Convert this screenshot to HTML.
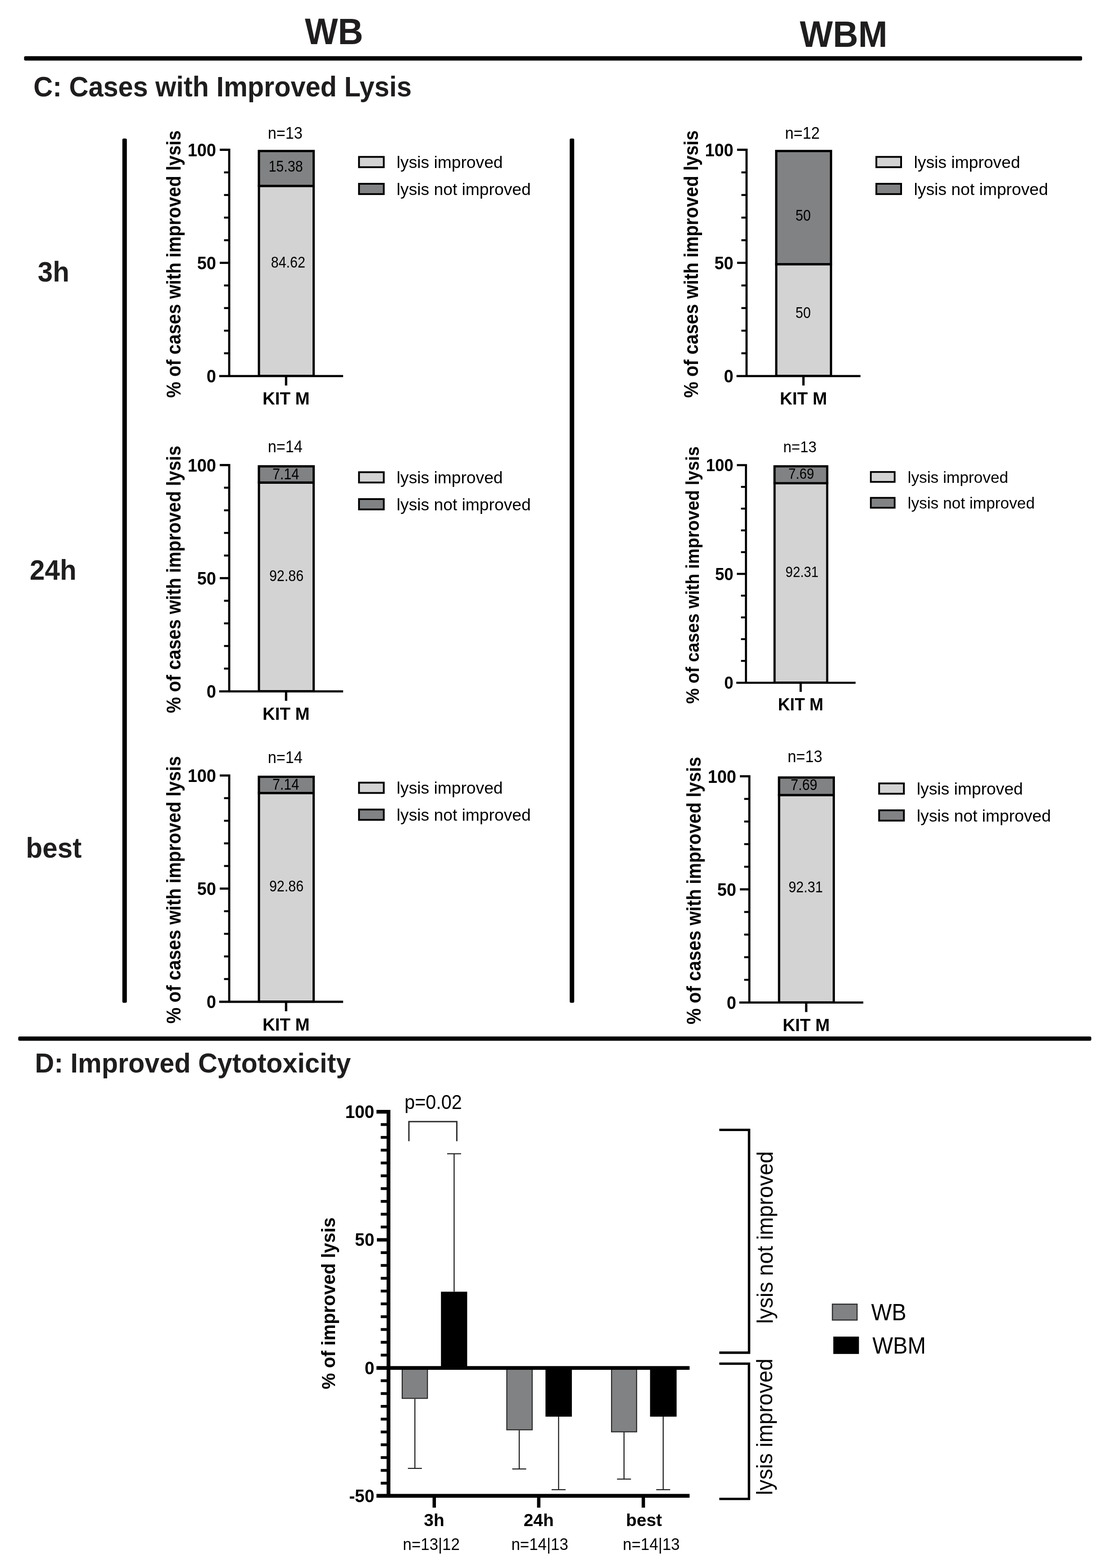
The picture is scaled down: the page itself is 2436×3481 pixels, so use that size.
<!DOCTYPE html>
<html lang="en">
<head>
<meta charset="utf-8">
<title>Cases with Improved Lysis / Improved Cytotoxicity</title>
<style>
html,body{margin:0;padding:0;background:#fff;}
body{width:2436px;height:3481px;overflow:hidden;}
svg{display:block;}
text{font-family:"Liberation Sans",sans-serif;fill:#000;}
.b{font-weight:bold;}
.r{font-weight:normal;}
.t{font-weight:bold;fill:#1f1d1d;}
</style>
</head>
<body>
<svg width="2436" height="3481" viewBox="0 0 2436 3481">
<rect width="2436" height="3481" fill="#fff"/>

<text class="t" transform="translate(741.70,97.90) scale(0.949,1)" text-anchor="middle" font-size="82.00">WB</text>
<text class="t" transform="translate(1873.30,103.70) scale(0.949,1)" text-anchor="middle" font-size="82.00">WBM</text>
<rect x="53.5" y="124.8" width="2349.4" height="9.7" rx="3.2" fill="#000"/>
<text class="t" transform="translate(74.30,214.30) scale(0.951,1)" font-size="62.50">C: Cases with Improved Lysis</text>
<rect x="271.7" y="307.4" width="10" height="1918.8" rx="3.2" fill="#000"/>
<rect x="1265.1" y="307.4" width="10" height="1918.8" rx="3.2" fill="#000"/>
<text class="t" transform="translate(118.80,625.20) scale(0.948,1)" text-anchor="middle" font-size="63.50">3h</text>
<text class="t" transform="translate(117.80,1287.20) scale(0.948,1)" text-anchor="middle" font-size="63.50">24h</text>
<text class="t" transform="translate(119.30,1904.40) scale(0.948,1)" text-anchor="middle" font-size="63.50">best</text>
<g transform="translate(509,834.5) scale(1)">
<rect x="63.5" y="-501.70" width="126.5" height="501.70" fill="#d3d3d3"/>
<rect x="63.5" y="-501.70" width="126.5" height="79.91" fill="#818284"/>
<rect x="66.0" y="-499.20" width="121.5" height="499.20" fill="none" stroke="#000" stroke-width="5.0"/>
<line x1="63.5" x2="190.0" y1="-421.69" y2="-421.69" stroke="#000" stroke-width="5.2"/>
<path d="M-21,-502.00H0V0" fill="none" stroke="#000" stroke-width="4.8"/>
<line x1="-22.3" x2="253" y1="0.3" y2="0.3" stroke="#000" stroke-width="4.8"/>
<line x1="-21" x2="0" y1="-251.00" y2="-251.00" stroke="#000" stroke-width="4.8"/>
<line x1="-11.5" x2="0" y1="-50.20" y2="-50.20" stroke="#000" stroke-width="4.4"/>
<line x1="-11.5" x2="0" y1="-100.40" y2="-100.40" stroke="#000" stroke-width="4.4"/>
<line x1="-11.5" x2="0" y1="-150.60" y2="-150.60" stroke="#000" stroke-width="4.4"/>
<line x1="-11.5" x2="0" y1="-200.80" y2="-200.80" stroke="#000" stroke-width="4.4"/>
<line x1="-11.5" x2="0" y1="-301.20" y2="-301.20" stroke="#000" stroke-width="4.4"/>
<line x1="-11.5" x2="0" y1="-351.40" y2="-351.40" stroke="#000" stroke-width="4.4"/>
<line x1="-11.5" x2="0" y1="-401.60" y2="-401.60" stroke="#000" stroke-width="4.4"/>
<line x1="-11.5" x2="0" y1="-451.80" y2="-451.80" stroke="#000" stroke-width="4.4"/>
<line x1="126.3" x2="126.3" y1="0" y2="21.3" stroke="#000" stroke-width="5.2"/>
<text class="b" transform="translate(-29.20,14.20) scale(0.917,1)" text-anchor="end" font-size="41.30">0</text>
<text class="b" transform="translate(-29.20,-236.80) scale(0.917,1)" text-anchor="end" font-size="41.30">50</text>
<text class="b" transform="translate(-29.20,-487.80) scale(0.917,1)" text-anchor="end" font-size="41.30">100</text>
<text class="b" transform="translate(126.30,63.80) scale(0.975,1)" text-anchor="middle" font-size="39.50">KIT M</text>
<text class="b" transform="translate(-108.30,-248.20) rotate(-90) scale(0.917,1)" text-anchor="middle" font-size="44.00">% of cases with improved lysis</text>
<rect x="288.2" y="-486.2" width="55" height="22.9" fill="#d3d3d3" stroke="#000" stroke-width="4"/>
<rect x="288.2" y="-426.5" width="55" height="22.9" fill="#818284" stroke="#000" stroke-width="4"/>
<text class="r" transform="translate(371.80,-461.50) scale(0.99,1)" font-size="37.60">lysis improved</text>
<text class="r" transform="translate(371.80,-401.80) scale(0.99,1)" font-size="37.60">lysis not improved</text>
</g>
<text class="r" transform="translate(633.20,308.20) scale(0.924,1)" text-anchor="middle" font-size="37.00">n=13</text>
<text class="r" transform="translate(634.50,380.70) scale(0.885,1)" text-anchor="middle" font-size="34.40">15.38</text>
<text class="r" transform="translate(639.80,593.80) scale(0.885,1)" text-anchor="middle" font-size="34.40">84.62</text>
<g transform="translate(509,1534.5) scale(1)">
<rect x="63.5" y="-501.70" width="126.5" height="501.70" fill="#d3d3d3"/>
<rect x="63.5" y="-501.70" width="126.5" height="38.54" fill="#818284"/>
<rect x="66.0" y="-499.20" width="121.5" height="499.20" fill="none" stroke="#000" stroke-width="5.0"/>
<line x1="63.5" x2="190.0" y1="-463.06" y2="-463.06" stroke="#000" stroke-width="5.2"/>
<path d="M-21,-502.00H0V0" fill="none" stroke="#000" stroke-width="4.8"/>
<line x1="-22.3" x2="253" y1="0.3" y2="0.3" stroke="#000" stroke-width="4.8"/>
<line x1="-21" x2="0" y1="-251.00" y2="-251.00" stroke="#000" stroke-width="4.8"/>
<line x1="-11.5" x2="0" y1="-50.20" y2="-50.20" stroke="#000" stroke-width="4.4"/>
<line x1="-11.5" x2="0" y1="-100.40" y2="-100.40" stroke="#000" stroke-width="4.4"/>
<line x1="-11.5" x2="0" y1="-150.60" y2="-150.60" stroke="#000" stroke-width="4.4"/>
<line x1="-11.5" x2="0" y1="-200.80" y2="-200.80" stroke="#000" stroke-width="4.4"/>
<line x1="-11.5" x2="0" y1="-301.20" y2="-301.20" stroke="#000" stroke-width="4.4"/>
<line x1="-11.5" x2="0" y1="-351.40" y2="-351.40" stroke="#000" stroke-width="4.4"/>
<line x1="-11.5" x2="0" y1="-401.60" y2="-401.60" stroke="#000" stroke-width="4.4"/>
<line x1="-11.5" x2="0" y1="-451.80" y2="-451.80" stroke="#000" stroke-width="4.4"/>
<line x1="126.3" x2="126.3" y1="0" y2="21.3" stroke="#000" stroke-width="5.2"/>
<text class="b" transform="translate(-29.20,14.20) scale(0.917,1)" text-anchor="end" font-size="41.30">0</text>
<text class="b" transform="translate(-29.20,-236.80) scale(0.917,1)" text-anchor="end" font-size="41.30">50</text>
<text class="b" transform="translate(-29.20,-487.80) scale(0.917,1)" text-anchor="end" font-size="41.30">100</text>
<text class="b" transform="translate(126.30,63.80) scale(0.975,1)" text-anchor="middle" font-size="39.50">KIT M</text>
<text class="b" transform="translate(-108.30,-248.20) rotate(-90) scale(0.917,1)" text-anchor="middle" font-size="44.00">% of cases with improved lysis</text>
<rect x="288.2" y="-486.2" width="55" height="22.9" fill="#d3d3d3" stroke="#000" stroke-width="4"/>
<rect x="288.2" y="-426.5" width="55" height="22.9" fill="#818284" stroke="#000" stroke-width="4"/>
<text class="r" transform="translate(371.80,-461.50) scale(0.99,1)" font-size="37.60">lysis improved</text>
<text class="r" transform="translate(371.80,-401.80) scale(0.99,1)" font-size="37.60">lysis not improved</text>
</g>
<text class="r" transform="translate(633.20,1004.40) scale(0.924,1)" text-anchor="middle" font-size="37.00">n=14</text>
<text class="r" transform="translate(634.50,1063.60) scale(0.885,1)" text-anchor="middle" font-size="34.40">7.14</text>
<text class="r" transform="translate(636.00,1289.80) scale(0.885,1)" text-anchor="middle" font-size="34.40">92.86</text>
<g transform="translate(509,2223.7) scale(1)">
<rect x="63.5" y="-501.70" width="126.5" height="501.70" fill="#d3d3d3"/>
<rect x="63.5" y="-501.70" width="126.5" height="38.54" fill="#818284"/>
<rect x="66.0" y="-499.20" width="121.5" height="499.20" fill="none" stroke="#000" stroke-width="5.0"/>
<line x1="63.5" x2="190.0" y1="-463.06" y2="-463.06" stroke="#000" stroke-width="5.2"/>
<path d="M-21,-502.00H0V0" fill="none" stroke="#000" stroke-width="4.8"/>
<line x1="-22.3" x2="253" y1="0.3" y2="0.3" stroke="#000" stroke-width="4.8"/>
<line x1="-21" x2="0" y1="-251.00" y2="-251.00" stroke="#000" stroke-width="4.8"/>
<line x1="-11.5" x2="0" y1="-50.20" y2="-50.20" stroke="#000" stroke-width="4.4"/>
<line x1="-11.5" x2="0" y1="-100.40" y2="-100.40" stroke="#000" stroke-width="4.4"/>
<line x1="-11.5" x2="0" y1="-150.60" y2="-150.60" stroke="#000" stroke-width="4.4"/>
<line x1="-11.5" x2="0" y1="-200.80" y2="-200.80" stroke="#000" stroke-width="4.4"/>
<line x1="-11.5" x2="0" y1="-301.20" y2="-301.20" stroke="#000" stroke-width="4.4"/>
<line x1="-11.5" x2="0" y1="-351.40" y2="-351.40" stroke="#000" stroke-width="4.4"/>
<line x1="-11.5" x2="0" y1="-401.60" y2="-401.60" stroke="#000" stroke-width="4.4"/>
<line x1="-11.5" x2="0" y1="-451.80" y2="-451.80" stroke="#000" stroke-width="4.4"/>
<line x1="126.3" x2="126.3" y1="0" y2="21.3" stroke="#000" stroke-width="5.2"/>
<text class="b" transform="translate(-29.20,14.20) scale(0.917,1)" text-anchor="end" font-size="41.30">0</text>
<text class="b" transform="translate(-29.20,-236.80) scale(0.917,1)" text-anchor="end" font-size="41.30">50</text>
<text class="b" transform="translate(-29.20,-487.80) scale(0.917,1)" text-anchor="end" font-size="41.30">100</text>
<text class="b" transform="translate(126.30,63.80) scale(0.975,1)" text-anchor="middle" font-size="39.50">KIT M</text>
<text class="b" transform="translate(-108.30,-248.20) rotate(-90) scale(0.917,1)" text-anchor="middle" font-size="44.00">% of cases with improved lysis</text>
<rect x="288.2" y="-486.2" width="55" height="22.9" fill="#d3d3d3" stroke="#000" stroke-width="4"/>
<rect x="288.2" y="-426.5" width="55" height="22.9" fill="#818284" stroke="#000" stroke-width="4"/>
<text class="r" transform="translate(371.80,-461.50) scale(0.99,1)" font-size="37.60">lysis improved</text>
<text class="r" transform="translate(371.80,-401.80) scale(0.99,1)" font-size="37.60">lysis not improved</text>
</g>
<text class="r" transform="translate(633.20,1693.50) scale(0.924,1)" text-anchor="middle" font-size="37.00">n=14</text>
<text class="r" transform="translate(634.50,1752.60) scale(0.885,1)" text-anchor="middle" font-size="34.40">7.14</text>
<text class="r" transform="translate(636.00,1979.10) scale(0.885,1)" text-anchor="middle" font-size="34.40">92.86</text>
<g transform="translate(1657.8,834.5) scale(1)">
<rect x="63.5" y="-501.70" width="126.5" height="501.70" fill="#d3d3d3"/>
<rect x="63.5" y="-501.70" width="126.5" height="253.70" fill="#818284"/>
<rect x="66.0" y="-499.20" width="121.5" height="499.20" fill="none" stroke="#000" stroke-width="5.0"/>
<line x1="63.5" x2="190.0" y1="-247.90" y2="-247.90" stroke="#000" stroke-width="5.2"/>
<path d="M-21,-502.00H0V0" fill="none" stroke="#000" stroke-width="4.8"/>
<line x1="-22.3" x2="253" y1="0.3" y2="0.3" stroke="#000" stroke-width="4.8"/>
<line x1="-21" x2="0" y1="-251.00" y2="-251.00" stroke="#000" stroke-width="4.8"/>
<line x1="-11.5" x2="0" y1="-50.20" y2="-50.20" stroke="#000" stroke-width="4.4"/>
<line x1="-11.5" x2="0" y1="-100.40" y2="-100.40" stroke="#000" stroke-width="4.4"/>
<line x1="-11.5" x2="0" y1="-150.60" y2="-150.60" stroke="#000" stroke-width="4.4"/>
<line x1="-11.5" x2="0" y1="-200.80" y2="-200.80" stroke="#000" stroke-width="4.4"/>
<line x1="-11.5" x2="0" y1="-301.20" y2="-301.20" stroke="#000" stroke-width="4.4"/>
<line x1="-11.5" x2="0" y1="-351.40" y2="-351.40" stroke="#000" stroke-width="4.4"/>
<line x1="-11.5" x2="0" y1="-401.60" y2="-401.60" stroke="#000" stroke-width="4.4"/>
<line x1="-11.5" x2="0" y1="-451.80" y2="-451.80" stroke="#000" stroke-width="4.4"/>
<line x1="126.3" x2="126.3" y1="0" y2="21.3" stroke="#000" stroke-width="5.2"/>
<text class="b" transform="translate(-29.20,14.20) scale(0.917,1)" text-anchor="end" font-size="41.30">0</text>
<text class="b" transform="translate(-29.20,-236.80) scale(0.917,1)" text-anchor="end" font-size="41.30">50</text>
<text class="b" transform="translate(-29.20,-487.80) scale(0.917,1)" text-anchor="end" font-size="41.30">100</text>
<text class="b" transform="translate(126.30,63.80) scale(0.975,1)" text-anchor="middle" font-size="39.50">KIT M</text>
<text class="b" transform="translate(-108.30,-248.20) rotate(-90) scale(0.917,1)" text-anchor="middle" font-size="44.00">% of cases with improved lysis</text>
<rect x="288.2" y="-486.2" width="55" height="22.9" fill="#d3d3d3" stroke="#000" stroke-width="4"/>
<rect x="288.2" y="-426.5" width="55" height="22.9" fill="#818284" stroke="#000" stroke-width="4"/>
<text class="r" transform="translate(371.80,-461.50) scale(0.99,1)" font-size="37.60">lysis improved</text>
<text class="r" transform="translate(371.80,-401.80) scale(0.99,1)" font-size="37.60">lysis not improved</text>
</g>
<text class="r" transform="translate(1781.70,308.20) scale(0.924,1)" text-anchor="middle" font-size="37.00">n=12</text>
<text class="r" transform="translate(1783.40,489.60) scale(0.885,1)" text-anchor="middle" font-size="34.40">50</text>
<text class="r" transform="translate(1783.40,705.80) scale(0.885,1)" text-anchor="middle" font-size="34.40">50</text>
<g transform="translate(1656.5,1515.5) scale(0.962)">
<rect x="63.5" y="-501.70" width="126.5" height="501.70" fill="#d3d3d3"/>
<rect x="63.5" y="-501.70" width="126.5" height="41.30" fill="#818284"/>
<rect x="66.0" y="-499.20" width="121.5" height="499.20" fill="none" stroke="#000" stroke-width="5.0"/>
<line x1="63.5" x2="190.0" y1="-460.30" y2="-460.30" stroke="#000" stroke-width="5.2"/>
<path d="M-21,-502.00H0V0" fill="none" stroke="#000" stroke-width="4.8"/>
<line x1="-22.3" x2="253" y1="0.3" y2="0.3" stroke="#000" stroke-width="4.8"/>
<line x1="-21" x2="0" y1="-251.00" y2="-251.00" stroke="#000" stroke-width="4.8"/>
<line x1="-11.5" x2="0" y1="-50.20" y2="-50.20" stroke="#000" stroke-width="4.4"/>
<line x1="-11.5" x2="0" y1="-100.40" y2="-100.40" stroke="#000" stroke-width="4.4"/>
<line x1="-11.5" x2="0" y1="-150.60" y2="-150.60" stroke="#000" stroke-width="4.4"/>
<line x1="-11.5" x2="0" y1="-200.80" y2="-200.80" stroke="#000" stroke-width="4.4"/>
<line x1="-11.5" x2="0" y1="-301.20" y2="-301.20" stroke="#000" stroke-width="4.4"/>
<line x1="-11.5" x2="0" y1="-351.40" y2="-351.40" stroke="#000" stroke-width="4.4"/>
<line x1="-11.5" x2="0" y1="-401.60" y2="-401.60" stroke="#000" stroke-width="4.4"/>
<line x1="-11.5" x2="0" y1="-451.80" y2="-451.80" stroke="#000" stroke-width="4.4"/>
<line x1="126.3" x2="126.3" y1="0" y2="21.3" stroke="#000" stroke-width="5.2"/>
<text class="b" transform="translate(-29.20,14.20) scale(0.917,1)" text-anchor="end" font-size="41.30">0</text>
<text class="b" transform="translate(-29.20,-236.80) scale(0.917,1)" text-anchor="end" font-size="41.30">50</text>
<text class="b" transform="translate(-29.20,-487.80) scale(0.917,1)" text-anchor="end" font-size="41.30">100</text>
<text class="b" transform="translate(126.30,63.80) scale(0.975,1)" text-anchor="middle" font-size="39.50">KIT M</text>
<text class="b" transform="translate(-108.30,-248.20) rotate(-90) scale(0.9755,1)" text-anchor="middle" font-size="41.36">% of cases with improved lysis</text>
<rect x="288.2" y="-486.2" width="55" height="22.9" fill="#d3d3d3" stroke="#000" stroke-width="4"/>
<rect x="288.2" y="-426.5" width="55" height="22.9" fill="#818284" stroke="#000" stroke-width="4"/>
<text class="r" transform="translate(373.30,-461.50) scale(0.99,1)" font-size="37.04">lysis improved</text>
<text class="r" transform="translate(373.30,-401.80) scale(0.99,1)" font-size="37.04">lysis not improved</text>
</g>
<text class="r" transform="translate(1776.20,1003.50) scale(0.924,1)" text-anchor="middle" font-size="35.59">n=13</text>
<text class="r" transform="translate(1779.20,1062.60) scale(0.885,1)" text-anchor="middle" font-size="33.09">7.69</text>
<text class="r" transform="translate(1781.00,1281.40) scale(0.885,1)" text-anchor="middle" font-size="33.09">92.31</text>
<g transform="translate(1664,2225.4) scale(1)">
<rect x="63.5" y="-501.70" width="126.5" height="501.70" fill="#d3d3d3"/>
<rect x="63.5" y="-501.70" width="126.5" height="41.30" fill="#818284"/>
<rect x="66.0" y="-499.20" width="121.5" height="499.20" fill="none" stroke="#000" stroke-width="5.0"/>
<line x1="63.5" x2="190.0" y1="-460.30" y2="-460.30" stroke="#000" stroke-width="5.2"/>
<path d="M-21,-502.00H0V0" fill="none" stroke="#000" stroke-width="4.8"/>
<line x1="-22.3" x2="253" y1="0.3" y2="0.3" stroke="#000" stroke-width="4.8"/>
<line x1="-21" x2="0" y1="-251.00" y2="-251.00" stroke="#000" stroke-width="4.8"/>
<line x1="-11.5" x2="0" y1="-50.20" y2="-50.20" stroke="#000" stroke-width="4.4"/>
<line x1="-11.5" x2="0" y1="-100.40" y2="-100.40" stroke="#000" stroke-width="4.4"/>
<line x1="-11.5" x2="0" y1="-150.60" y2="-150.60" stroke="#000" stroke-width="4.4"/>
<line x1="-11.5" x2="0" y1="-200.80" y2="-200.80" stroke="#000" stroke-width="4.4"/>
<line x1="-11.5" x2="0" y1="-301.20" y2="-301.20" stroke="#000" stroke-width="4.4"/>
<line x1="-11.5" x2="0" y1="-351.40" y2="-351.40" stroke="#000" stroke-width="4.4"/>
<line x1="-11.5" x2="0" y1="-401.60" y2="-401.60" stroke="#000" stroke-width="4.4"/>
<line x1="-11.5" x2="0" y1="-451.80" y2="-451.80" stroke="#000" stroke-width="4.4"/>
<line x1="126.3" x2="126.3" y1="0" y2="21.3" stroke="#000" stroke-width="5.2"/>
<text class="b" transform="translate(-29.20,14.20) scale(0.917,1)" text-anchor="end" font-size="41.30">0</text>
<text class="b" transform="translate(-29.20,-236.80) scale(0.917,1)" text-anchor="end" font-size="41.30">50</text>
<text class="b" transform="translate(-29.20,-487.80) scale(0.917,1)" text-anchor="end" font-size="41.30">100</text>
<text class="b" transform="translate(126.30,63.80) scale(0.975,1)" text-anchor="middle" font-size="39.50">KIT M</text>
<text class="b" transform="translate(-108.30,-248.20) rotate(-90) scale(0.917,1)" text-anchor="middle" font-size="44.00">% of cases with improved lysis</text>
<rect x="288.2" y="-486.2" width="55" height="22.9" fill="#d3d3d3" stroke="#000" stroke-width="4"/>
<rect x="288.2" y="-426.5" width="55" height="22.9" fill="#818284" stroke="#000" stroke-width="4"/>
<text class="r" transform="translate(371.80,-461.50) scale(0.99,1)" font-size="37.60">lysis improved</text>
<text class="r" transform="translate(371.80,-401.80) scale(0.99,1)" font-size="37.60">lysis not improved</text>
</g>
<text class="r" transform="translate(1787.50,1692.30) scale(0.924,1)" text-anchor="middle" font-size="37.00">n=13</text>
<text class="r" transform="translate(1785.40,1753.60) scale(0.885,1)" text-anchor="middle" font-size="34.40">7.69</text>
<text class="r" transform="translate(1789.00,1980.70) scale(0.885,1)" text-anchor="middle" font-size="34.40">92.31</text>
<rect x="40.5" y="2300.9" width="2382.8" height="9.5" rx="3.2" fill="#000"/>
<text class="t" transform="translate(77.60,2381.00) scale(0.97,1)" font-size="61.12">D: Improved Cytotoxicity</text>
<path d="M921.3,3105.5V3259.8M905.8,3259.8H936.8" fill="none" stroke="#1a1a1a" stroke-width="2.3"/>
<rect x="893.1" y="3036.8" width="56.1" height="67.6" fill="#818284" stroke="#222" stroke-width="2.2"/>
<path d="M1008.4,2867.6V2561.3M992.9,2561.3H1023.9" fill="none" stroke="#1a1a1a" stroke-width="2.3"/>
<rect x="979.2" y="2867.6" width="58.2" height="169.2" fill="#000"/>
<path d="M1153,3175.3V3261.2M1137.5,3261.2H1168.5" fill="none" stroke="#1a1a1a" stroke-width="2.3"/>
<rect x="1125.3999999999999" y="3036.8" width="56.4" height="137.4" fill="#818284" stroke="#222" stroke-width="2.2"/>
<path d="M1240.4,3145V3307.1M1224.9,3307.1H1255.9" fill="none" stroke="#1a1a1a" stroke-width="2.3"/>
<rect x="1211.3" y="3036.8" width="58.6" height="108.2" fill="#000"/>
<path d="M1385.7,3179.8V3283.6M1370.2,3283.6H1401.2" fill="none" stroke="#1a1a1a" stroke-width="2.3"/>
<rect x="1358.0" y="3036.8" width="55.7" height="141.9" fill="#818284" stroke="#222" stroke-width="2.2"/>
<path d="M1472.7,3145V3307.1M1457.2,3307.1H1488.2" fill="none" stroke="#1a1a1a" stroke-width="2.3"/>
<rect x="1443.5" y="3036.8" width="59.0" height="108.2" fill="#000"/>
<path d="M836,2468.1H862.7V3325.0" fill="none" stroke="#000" stroke-width="8.4"/>
<line x1="836" x2="1531.3" y1="3036.8" y2="3036.8" stroke="#000" stroke-width="8.2"/>
<line x1="836" x2="1531.3" y1="3320.8" y2="3320.8" stroke="#000" stroke-width="8.4"/>
<line x1="837" x2="862.7" y1="2752.5" y2="2752.5" stroke="#000" stroke-width="7.6"/>
<line x1="845.5" x2="862.7" y1="3292.7" y2="3292.7" stroke="#000" stroke-width="6.2"/>
<line x1="845.5" x2="862.7" y1="3264.3" y2="3264.3" stroke="#000" stroke-width="6.2"/>
<line x1="845.5" x2="862.7" y1="3235.8" y2="3235.8" stroke="#000" stroke-width="6.2"/>
<line x1="845.5" x2="862.7" y1="3207.4" y2="3207.4" stroke="#000" stroke-width="6.2"/>
<line x1="845.5" x2="862.7" y1="3179.0" y2="3179.0" stroke="#000" stroke-width="6.2"/>
<line x1="845.5" x2="862.7" y1="3150.5" y2="3150.5" stroke="#000" stroke-width="6.2"/>
<line x1="845.5" x2="862.7" y1="3122.1" y2="3122.1" stroke="#000" stroke-width="6.2"/>
<line x1="845.5" x2="862.7" y1="3093.7" y2="3093.7" stroke="#000" stroke-width="6.2"/>
<line x1="845.5" x2="862.7" y1="3065.2" y2="3065.2" stroke="#000" stroke-width="6.2"/>
<line x1="845.5" x2="862.7" y1="3008.4" y2="3008.4" stroke="#000" stroke-width="6.2"/>
<line x1="845.5" x2="862.7" y1="2979.9" y2="2979.9" stroke="#000" stroke-width="6.2"/>
<line x1="845.5" x2="862.7" y1="2951.5" y2="2951.5" stroke="#000" stroke-width="6.2"/>
<line x1="845.5" x2="862.7" y1="2923.1" y2="2923.1" stroke="#000" stroke-width="6.2"/>
<line x1="845.5" x2="862.7" y1="2894.6" y2="2894.6" stroke="#000" stroke-width="6.2"/>
<line x1="845.5" x2="862.7" y1="2866.2" y2="2866.2" stroke="#000" stroke-width="6.2"/>
<line x1="845.5" x2="862.7" y1="2837.8" y2="2837.8" stroke="#000" stroke-width="6.2"/>
<line x1="845.5" x2="862.7" y1="2809.3" y2="2809.3" stroke="#000" stroke-width="6.2"/>
<line x1="845.5" x2="862.7" y1="2780.9" y2="2780.9" stroke="#000" stroke-width="6.2"/>
<line x1="845.5" x2="862.7" y1="2724.0" y2="2724.0" stroke="#000" stroke-width="6.2"/>
<line x1="845.5" x2="862.7" y1="2695.6" y2="2695.6" stroke="#000" stroke-width="6.2"/>
<line x1="845.5" x2="862.7" y1="2667.1" y2="2667.1" stroke="#000" stroke-width="6.2"/>
<line x1="845.5" x2="862.7" y1="2638.7" y2="2638.7" stroke="#000" stroke-width="6.2"/>
<line x1="845.5" x2="862.7" y1="2610.3" y2="2610.3" stroke="#000" stroke-width="6.2"/>
<line x1="845.5" x2="862.7" y1="2581.8" y2="2581.8" stroke="#000" stroke-width="6.2"/>
<line x1="845.5" x2="862.7" y1="2553.4" y2="2553.4" stroke="#000" stroke-width="6.2"/>
<line x1="845.5" x2="862.7" y1="2525.0" y2="2525.0" stroke="#000" stroke-width="6.2"/>
<line x1="845.5" x2="862.7" y1="2496.5" y2="2496.5" stroke="#000" stroke-width="6.2"/>
<line x1="964.3" x2="964.3" y1="3320.8" y2="3347" stroke="#000" stroke-width="7.5"/>
<line x1="1196.3" x2="1196.3" y1="3320.8" y2="3347" stroke="#000" stroke-width="7.5"/>
<line x1="1428.6" x2="1428.6" y1="3320.8" y2="3347" stroke="#000" stroke-width="7.5"/>
<text class="b" transform="translate(831.20,2481.90) scale(0.953,1)" text-anchor="end" font-size="40.70">100</text>
<text class="b" transform="translate(831.20,2766.25) scale(0.953,1)" text-anchor="end" font-size="40.70">50</text>
<text class="b" transform="translate(831.20,3050.60) scale(0.953,1)" text-anchor="end" font-size="40.70">0</text>
<text class="b" transform="translate(831.20,3334.60) scale(0.953,1)" text-anchor="end" font-size="40.70">-50</text>
<text class="b" transform="translate(744.00,2893.50) rotate(-90) scale(0.97,1)" text-anchor="middle" font-size="41.90">% of improved lysis</text>
<text class="b" transform="translate(964.00,3388.00)" text-anchor="middle" font-size="38.90">3h</text>
<text class="b" transform="translate(1196.20,3388.00)" text-anchor="middle" font-size="38.90">24h</text>
<text class="b" transform="translate(1430.00,3388.00)" text-anchor="middle" font-size="38.90">best</text>
<text class="r" transform="translate(957.70,3441.00) scale(0.94,1)" text-anchor="middle" font-size="37.10">n=13|12</text>
<text class="r" transform="translate(1198.60,3441.00) scale(0.94,1)" text-anchor="middle" font-size="37.10">n=14|13</text>
<text class="r" transform="translate(1446.30,3441.00) scale(0.94,1)" text-anchor="middle" font-size="37.10">n=14|13</text>
<text class="r" transform="translate(962.00,2461.80) scale(0.924,1)" text-anchor="middle" font-size="44.80">p=0.02</text>
<path d="M908,2533.5V2490H1014.4V2533.5" fill="none" stroke="#2a2a2a" stroke-width="3"/>
<path d="M1597.3,2508.4H1663.4V3003H1597.3" fill="none" stroke="#000" stroke-width="5.4"/>
<path d="M1597.3,3027.4H1663.2V3327.6H1597.3" fill="none" stroke="#000" stroke-width="5.4"/>
<text class="r" transform="translate(1716.10,2747.30) rotate(-90) scale(0.973,1)" text-anchor="middle" font-size="49.20">lysis not improved</text>
<text class="r" transform="translate(1715.20,3167.70) rotate(-90) scale(0.973,1)" text-anchor="middle" font-size="49.20">lysis improved</text>
<rect x="1848.5" y="2895.3" width="54.7" height="35.2" fill="#818284" stroke="#333" stroke-width="2.6"/>
<rect x="1850.4" y="2967.3" width="57" height="38.5" fill="#000"/>
<text class="r" transform="translate(1934.50,2931.20) scale(0.935,1)" font-size="51.90">WB</text>
<text class="r" transform="translate(1937.30,3004.60) scale(0.935,1)" font-size="51.90">WBM</text>
</svg>
</body>
</html>
